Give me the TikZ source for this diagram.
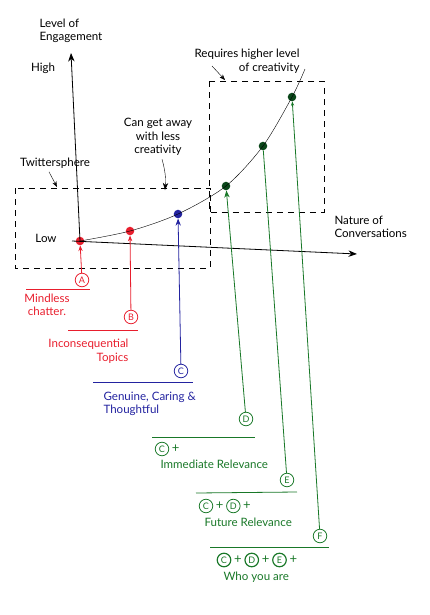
\documentclass[tikz,border=0pt]{standalone}
\usepackage{fontspec}
\setmainfont{Lato}
\usetikzlibrary{positioning}
\usetikzlibrary{arrows.meta}
\definecolor{chatred}{RGB}{232,30,45}
\definecolor{caringblue}{RGB}{35,35,160}
\definecolor{relgreen}{RGB}{25,120,40}
\definecolor{dotgreen}{RGB}{10,70,25}

\begin{document}
\begin{tikzpicture}[x=0.035cm, y=-0.035cm, font=\fontsize{11.5}{13.5}\selectfont,
    dot/.style={circle, fill=#1, inner sep=0pt, minimum size=8.5pt},
    tag/.style={circle, draw=#1, text=#1, thick, inner sep=0.6pt, minimum size=13.5pt,
      font=\fontsize{9}{10}\selectfont},
    plus/.style={text=#1, inner sep=0.5pt, font=\fontsize{13}{13}\selectfont},
    boxline/.style={dashed, dash pattern=on 6pt off 5pt, thick}]

  \useasboundingbox (0,0) rectangle (430,615);

  % ---- dots on the curve ----
  \node[dot=chatred] (pA) at (80,241) {};
  \node[dot=chatred] (pB) at (130,231) {};
  \node[dot=caringblue] (pC) at (178,214) {};
  \node[dot=dotgreen] (pD) at (226,186) {};
  \node[dot=dotgreen] (pE) at (263,146) {};
  \node[dot=dotgreen] (pF) at (292,97) {};
  \coordinate (curveEnd) at (305,69);

  % ---- axes ----
  \coordinate (yTop) at (71,53);
  \coordinate (xStart) at (72,241);
  \coordinate (xEnd) at (357,254);
  \draw[thick, -{Stealth[length=3mm]}] (pA.center) -- (yTop);
  \draw[thick, -{Stealth[length=3mm]}] (xStart) -- (xEnd);
  \draw plot[smooth] coordinates {(pA.center) (pB.center) (pC.center) (pD.center) (pE.center) (pF.center) (curveEnd)};

  \node[align=left, anchor=west] (yLabel) at (36,31) {Level of\\Engagement};
  \node (high) at (43,68) {High};
  \node (low) at (46,238) {Low};
  \node[align=left, anchor=west] (xLabel) at (331,227) {Nature of\\Conversations};

  % ---- dashed areas ----
  \draw[boxline] (15,188) rectangle (210,268);
  \draw[boxline] (209,81) rectangle (324,212);

  \node (tw) at (55,163) {Twittersphere};
  \coordinate (twTip) at (57,187);
  \draw[-{Stealth[length=2mm]}] ([xshift=-6pt]tw.south) -- (twTip);

  \node[align=center] (less) at (158,137) {Can get away\\with less\\creativity};
  \coordinate (lessTip) at (165,190);
  \draw[-{Stealth[length=2.5mm]}] ([xshift=4pt]less.south) to[bend left=10] (lessTip);

  \node[align=right, anchor=east] (more) at (303,61) {Requires higher level\\of creativity};
  \coordinate (moreTail) at (212,66);
  \coordinate (moreTip) at (225,80);
  \draw[-{Stealth[length=2mm]}] (moreTail) -- (moreTip);

  % ---- A: mindless chatter ----
  \node[tag=chatred] (tA) at (82,280) {A};
  \draw[chatred, thick, -{Stealth[length=2mm]}] (tA) -- (pA);
  \draw[chatred, thick] (26,289) -- (90,289);
  \node[text=chatred, align=center] (mindless) at (47,305) {Mindless\\chatter.};

  % ---- B: inconsequential topics ----
  \node[tag=chatred] (tB) at (131,317) {B};
  \draw[chatred, thick, -{Stealth[length=2mm]}] (tB) -- (pB);
  \draw[chatred, thick] (68,330) -- (138,330);
  \node[text=chatred, align=right, anchor=east] (topics) at (132,351) {Inconsequential\\Topics};

  % ---- C: genuine ----
  \node[tag=caringblue] (tC) at (181,371) {C};
  \draw[caringblue, thick, -{Stealth[length=2.5mm]}] (tC) -- (pC);
  \draw[caringblue, thick] (93,382) -- (193,382);
  \node[text=caringblue, align=left, anchor=west] (genuine) at (100,404) {Genuine, Caring \&\\Thoughtful};

  % ---- D: immediate relevance ----
  \node[tag=relgreen] (tD) at (246,419) {D};
  \draw[relgreen, thick, -{Stealth[length=2.5mm]}] (tD) -- (pD);
  \draw[relgreen, thick] (152,437) -- (255,437);
  \node[tag=relgreen] (dC) at (162,449) {C};
  \node[plus=relgreen, right=2pt of dC] (dP) {+};
  \node[text=relgreen, anchor=west] (immediate) at (157,464) {Immediate Relevance};

  % ---- E: future relevance ----
  \node[tag=relgreen] (tE) at (287,480) {E};
  \draw[relgreen, thick] (tE) -- (pE);
  \draw[relgreen, thick] (196,493) -- (297,492);
  \node[tag=relgreen] (eC) at (206,506) {C};
  \node[plus=relgreen, right=2pt of eC] (eP1) {+};
  \node[tag=relgreen, right=2pt of eP1] (eD) {D};
  \node[plus=relgreen, right=2pt of eD] (eP2) {+};
  \node[text=relgreen, anchor=west] (future) at (201,522) {Future Relevance};

  % ---- F: who you are ----
  \node[tag=relgreen] (tF) at (320,536) {F};
  \draw[relgreen, thick, -{Stealth[length=1.5mm]}] (tF) -- (pF);
  \draw[relgreen, thick] (210,547) -- (329,547);
  \node[tag=relgreen, very thick] (fC) at (224,560) {C};
  \node[plus=relgreen, right=2pt of fC] (fP1) {+};
  \node[tag=relgreen, very thick, right=2pt of fP1] (fD) {D};
  \node[plus=relgreen, right=2pt of fD] (fP2) {+};
  \node[tag=relgreen, very thick, right=2pt of fP2] (fE) {E};
  \node[plus=relgreen, right=2pt of fE] (fP3) {+};
  \node[text=relgreen, anchor=west] (who) at (220,577) {Who you are};

\end{tikzpicture}
\end{document}
